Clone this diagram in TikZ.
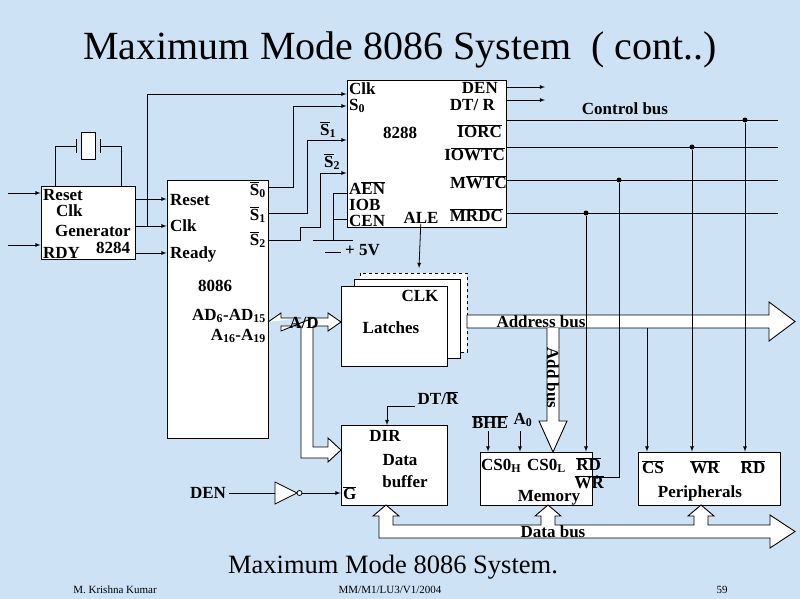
\documentclass[tikz,border=0pt]{standalone}
\usepackage{fontspec}
\setmainfont{Liberation Serif}
\usetikzlibrary{arrows}
\newcommand{\ov}[1]{$\overline{\mbox{#1}}$}
\newcommand{\sub}[1]{\textsubscript{#1}}
\definecolor{slide}{RGB}{206,226,246}
\tikzset{
  box/.style={rectangle, draw=black, fill=white, line width=0.9pt, inner sep=0pt},
  lbl/.style={inner sep=0pt, font=\fontsize{17}{17}\selectfont\bfseries},
  wire/.style={line width=0.8pt},
  arrow/.style={line width=0.8pt,->,>=latex},
  bus/.style={draw=black, fill=white, line width=0.9pt},
  dot/.style={circle, fill=black, inner sep=0pt, minimum size=5pt}
}
\begin{document}
\begin{tikzpicture}[x=1pt, y=-1pt]
\useasboundingbox (0,0) rectangle (800,599);
\fill[slide] (0,0) rectangle (800,599);

\node[font=\fontsize{40}{40}\selectfont] (title) at (400,50) {Maximum Mode 8086 System\ \ ( cont..)};

% clock generator and crystal
\node [box, minimum width=94pt, minimum height=73pt] (gen) at (88,223) {};
\node [lbl, anchor=west] at (43,195) {Reset};
\node [lbl, anchor=west] at (56,211) {Clk};
\node [lbl, anchor=west] at (55,231) {Generator};
\node [lbl, anchor=west] at (96,248) {8284};
\node [lbl, anchor=west] at (43,253) {RDY};
\node [box, minimum width=14pt, minimum height=27pt] (xtal) at (88,146) {};
\draw [wire] (gen.north west -| 55,0) |- (76,146) (76,139) -- (76,153);
\draw [wire] (gen.north west -| 121,0) |- (100,146) (100,139) -- (100,153);
\draw [arrow] (8,193) -- (gen.west |- 0,193);
\draw [arrow] (8,245) -- (gen.west |- 0,245);

% 8086
\node [box, minimum width=101pt, minimum height=258pt] (cpu) at (217.5,309) {};
\node [lbl, anchor=west] at (170,200) {Reset};
\node [lbl, anchor=west] at (170,226) {Clk};
\node [lbl, anchor=west] at (170,254) {Ready};
\node [lbl] at (215,286) {8086};
\node [lbl, anchor=east] at (266,316) {AD\sub{6}-AD\sub{15}};
\node [lbl, anchor=east] at (266,336) {A\sub{16}-A\sub{19}};
\node [lbl, anchor=east] at (266,190) {\ov{S}\sub{0}};
\node [lbl, anchor=east] at (266,215) {\ov{S}\sub{1}};
\node [lbl, anchor=east] at (266,240) {\ov{S}\sub{2}};
\draw [arrow] (gen.east |- 0,199) -- (cpu.west |- 0,199);
\draw [arrow] (gen.east |- 0,226) -- (cpu.west |- 0,226);
\draw [arrow] (gen.east |- 0,253) -- (cpu.west |- 0,253);

% 8288
\node [box, minimum width=159pt, minimum height=147pt] (ctl) at (426.5,153.5) {};
\node [lbl, anchor=west] at (349,89) {Clk};
\node [lbl, anchor=west] at (349,106) {S\sub{0}};
\node [lbl] at (400,133) {8288};
\node [lbl, anchor=west] at (349,188) {A\ov{EN}};
\node [lbl, anchor=west] at (349,205) {IOB};
\node [lbl, anchor=west] at (349,221) {CEN};
\node [lbl] (ale) at (421,218) {ALE};
\node [lbl, anchor=east] at (498,88) {DEN};
\node [lbl, anchor=east] at (495,105) {DT/ R};
\node [lbl, anchor=east] at (502,131) {\ov{IORC}};
\node [lbl, anchor=east] at (505,154) {I\ov{OWTC}};
\node [lbl, anchor=east] at (507,182) {M\ov{WTC}};
\node [lbl, anchor=east] at (503,215) {\ov{MRDC}};
\node [lbl] at (328,130) {\ov{S}\sub{1}};
\node [lbl] at (332,162) {\ov{S}\sub{2}};
\draw [arrow] (cpu.north west -| 147,0) ++(0,46) |- (ctl.west |- 0,94);
\draw [arrow] (cpu.east |- 0,187) -| (293,106) -- (ctl.west |- 0,106);
\draw [arrow] (cpu.east |- 0,213) -| (307,140) -- (ctl.west |- 0,140);
\draw [arrow] (cpu.east |- 0,240) -| (300,227) -| (320,173) -- (ctl.west |- 0,173);
\draw [wire] (ctl.west |- 0,193) -| (333,240);
\draw [wire] (ctl.west |- 0,219) -- (333,219);
\draw [wire] (313,240) -- (353,240) (325,252) -- (341,252);
\node [lbl, anchor=west] at (345,250) {+ 5V};
\draw [arrow] (ctl.east |- 0,87) -- (545,87);
\draw [arrow] (ctl.east |- 0,100) -- (545,100);

% control bus
\node [lbl] at (625,109) {Control bus};
\foreach \y in {120,147,180,213}
  \draw [wire] (ctl.east |- 0,\y) -- (778,\y);
\node [dot] (d1) at (745,120) {};
\node [dot] (d2) at (692,147) {};
\node [dot] (d3) at (619,180) {};
\node [dot] (d4) at (586,213) {};

% latches
\draw [dashed, line width=0.6pt, fill=white] (360,273) rectangle (467,352);
\draw [box] (354,279) rectangle (460,358);
\node [box, minimum width=106pt, minimum height=80pt] (latch) at (394,326) {};
\node [lbl] at (420,296) {CLK};
\node [lbl] at (391,328) {Latches};
\draw [arrow] (ale) -- (419,268);

% address bus
\draw [bus] (467,315) -- (769,315) -- (769,302) -- (795,321.5) -- (769,341) -- (769,328) -- (467,328) -- cycle;
\node [lbl] at (541,322) {Address bus};

% A/D bus
\draw [bus] (268,322) -- (281,313) -- (281,318) -- (301,318) (313,318) -- (328,318) -- (328,313) -- (341,322) -- (328,331) -- (328,326) -- (313,326) -- (313,447) -- (328,447) -- (328,438) -- (341,450) -- (328,462) -- (328,458) -- (301,458) -- (301,326) -- (281,326) -- (281,331) -- cycle;
\node [lbl] at (304,323) {A/D};

% data buffer
\node [box, minimum width=106pt, minimum height=80pt] (buf) at (394,465) {};
\node [lbl] at (385,436) {DIR};
\node [lbl] at (400,460) {Data};
\node [lbl] at (405,482) {buffer};
\node [lbl, anchor=west] at (343,493) {\ov{G}};
\node [lbl] at (438,398) {DT/\ov{R}};
\draw [arrow] (415,406) -| (387,425);
\node [lbl] (den) at (208,493) {DEN};
\draw [wire] (den.east) ++(3,0) -- (275,493);
\draw [wire, fill=white] (275,482) -- (297,493) -- (275,504) -- cycle;
\draw [wire, fill=white] (299.5,493) circle (2.5);
\draw [arrow] (302,493) -- (buf.west |- 0,493);

% memory
\node [box, minimum width=112pt, minimum height=53pt] (mem) at (536,478.5) {};
\node [lbl, anchor=west] at (481,466) {CS0\sub{H}};
\node [lbl, anchor=west] at (527,466) {CS0\sub{L}};
\node [lbl, anchor=east] at (601,464) {\ov{RD}};
\node [lbl, anchor=east] at (604,482) {\ov{WR}};
\node [lbl] at (549,498) {Memory};
\node [lbl] (bhe) at (490,422) {\ov{BHE}};
\node [lbl] (a0) at (523,420) {A\sub{0}};
\draw [arrow] (488,431) -- (mem.north -| 488,0);
\draw [arrow] (520,431) -- (mem.north -| 520,0);
\draw [bus] (547,328) -- (547,421) -- (539,421) -- (553,452) -- (567,421) -- (559,421) -- (559,328);
\node [lbl, rotate=-90] at (553,378) {Add bus};
\draw [arrow] (d4) -- (mem.north -| 586,0);
\draw [arrow] (d3) |- (mem.east |- 0,477);

% peripherals
\node [box, minimum width=142pt, minimum height=53pt] (per) at (709,478.5) {};
\node [lbl] at (653,467) {\ov{CS}};
\node [lbl] at (705,467) {\ov{WR}};
\node [lbl] at (753,467) {\ov{RD}};
\node [lbl] at (700,493) {Peripherals};
\draw [arrow] (647,328) -- (per.north -| 647,0);
\draw [arrow] (d2) -- (per.north -| 692,0);
\draw [arrow] (d1) -- (per.north -| 745,0);

% data bus
\draw [bus] (379,538) -- (379,516) -- (373,516) -- (386,505) -- (399,516) -- (393,516) -- (393,525)
  -- (541,525) -- (541,516) -- (535,516) -- (548,505) -- (561,516) -- (555,516) -- (555,525)
  -- (694,525) -- (694,516) -- (688,516) -- (701,505) -- (714,516) -- (708,516) -- (708,525)
  -- (770,525) -- (770,515) -- (795,531.5) -- (770,548) -- (770,538) -- cycle;
\node [lbl] at (553,532) {Data bus};

\node[font=\fontsize{26.5}{26.5}\selectfont] at (393,567) {Maximum Mode 8086 System.};
\node[font=\fontsize{11}{11}\selectfont] at (115,590) {M. Krishna Kumar};
\node[font=\fontsize{11}{11}\selectfont] at (390,590) {MM/M1/LU3/V1/2004};
\node[font=\fontsize{11}{11}\selectfont] at (722,590) {59};
\end{tikzpicture}
\end{document}
